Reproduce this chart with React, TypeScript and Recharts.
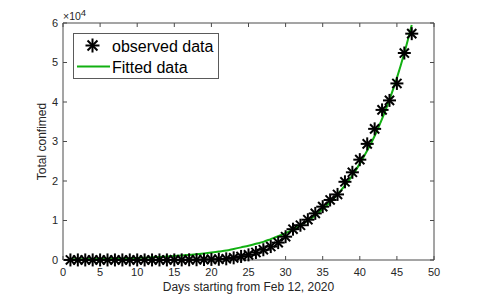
import { LineChart, Line, XAxis, YAxis, Legend } from "recharts";

// days since Feb 12, 2020
const days = [
  1, 2, 3, 4, 5, 6, 7, 8, 9, 10, 11, 12, 13, 14, 15, 16, 17, 18, 19, 20, 21, 22, 23, 24,
  25, 26, 27, 28, 29, 30, 31, 32, 33, 34, 35, 36, 37, 38, 39, 40, 41, 42, 43, 44, 45, 46, 47,
];

const observed = [
  16, 16, 16, 16, 16, 16, 16, 16, 16, 16, 16, 16, 16, 18, 21, 26, 53, 66, 117, 150, 188, 300,
  550, 900, 1300, 1900, 2600, 3400, 4400, 5900, 7800, 8800, 10200, 11800, 13500, 15200, 16600,
  19800, 22200, 25400, 29400, 33200, 38000, 40400, 44700, 52400, 57300,
];

const fitted = [
  170, 190, 215, 245, 280, 315, 360, 410, 460, 530, 600, 680, 770, 880, 1000, 1130, 1290, 1460,
  1660, 1890, 2150, 2400, 2800, 3200, 3600, 4100, 4600, 5300, 6000, 6800, 7700, 8800, 10000,
  11300, 12900, 14600, 16600, 18900, 21400, 24400, 27700, 31400, 35700, 40600, 46100, 52400, 59500,
];

const xTicks = [0, 5, 10, 15, 20, 25, 30, 35, 40, 45, 50];
const yTicks = [0, 10000, 20000, 30000, 40000, 50000, 60000];

const rows = days.map((d, i) => ({ day: d, observed: observed[i], fitted: fitted[i] }));

const FONT = '"Liberation Sans", Arial, sans-serif';
const AXIS = "#4a4a4a";
const TEXT = "#262626";
const GREEN = "#12b012";

function Asterisk({ cx, cy, r }: { cx: number; cy: number; r: number }) {
  const d = r * 0.707;
  return (
    <g stroke="#000" strokeWidth={2} strokeLinecap="butt">
      <line x1={cx - r} y1={cy} x2={cx + r} y2={cy} />
      <line x1={cx} y1={cy - r} x2={cx} y2={cy + r} />
      <line x1={cx - d} y1={cy - d} x2={cx + d} y2={cy + d} />
      <line x1={cx - d} y1={cy + d} x2={cx + d} y2={cy - d} />
    </g>
  );
}

const starDot = (props: any) => {
  if (props.cx == null || props.cy == null) return <g key={`s-${props.index}`} />;
  return (
    <g key={`s-${props.index}`}>
      <Asterisk cx={props.cx} cy={props.cy} r={6.5} />
    </g>
  );
};

const noTick = () => <g />;

const LegendBox = () => (
  <svg width={146} height={46} style={{ display: "block" }}>
    <rect x={0.5} y={0.5} width={145} height={45} fill="#fff" stroke="#5a5a5a" strokeWidth={1} />
    <Asterisk cx={19.5} cy={12.5} r={7} />
    <text x={39} y={18.5} fontSize={16} fontFamily={FONT} fill="#000">
      observed data
    </text>
    <line x1={4} y1={33.5} x2={37} y2={33.5} stroke={GREEN} strokeWidth={2} />
    <text x={39} y={40} fontSize={16} fontFamily={FONT} fill="#000">
      Fitted data
    </text>
  </svg>
);

export default function App() {
  return (
    <div style={{ position: "absolute", left: 0, top: 0 }}>
      <LineChart
        width={480}
        height={295}
        data={rows}
        margin={{ top: 22, right: 45, bottom: 34, left: 62 }}
        style={{ fontFamily: FONT }}
      >
        <XAxis
          dataKey="day"
          type="number"
          domain={[0, 50]}
          ticks={xTicks}
          height={1}
          tickSize={-4}
          tickMargin={12}
          stroke={AXIS}
          tick={{ fill: TEXT, fontSize: 11 }}
          label={{
            value: "Days starting from Feb 12, 2020",
            position: "bottom",
            offset: 21,
            fill: TEXT,
            fontSize: 12,
          }}
        />
        <XAxis
          xAxisId="top"
          orientation="top"
          dataKey="day"
          type="number"
          domain={[0, 50]}
          ticks={xTicks}
          height={1}
          tickSize={-4}
          stroke={AXIS}
          tick={noTick}
          label={{
            content: (p: any) => (
              <text x={p.viewBox.x} y={p.viewBox.y - 2} fontSize={10.5} fill={TEXT} fontFamily={FONT}>
                ×10
                <tspan dy={-4} fontSize={9.5}>
                  4
                </tspan>
              </text>
            ),
          }}
        />
        <YAxis
          type="number"
          domain={[0, 60000]}
          ticks={yTicks}
          width={1}
          tickSize={-4}
          tickMargin={9}
          stroke={AXIS}
          tick={{ fill: TEXT, fontSize: 11 }}
          tickFormatter={(v: number) => String(v / 10000)}
          label={{
            content: (p: any) => {
              const x = p.viewBox.x + p.viewBox.width - 17;
              const y = p.viewBox.y + p.viewBox.height / 2;
              return (
                <text
                  x={x}
                  y={y}
                  transform={`rotate(-90, ${x}, ${y})`}
                  textAnchor="middle"
                  fontSize={12}
                  fill={TEXT}
                  fontFamily={FONT}
                >
                  Total confimed
                </text>
              );
            },
          }}
        />
        <YAxis
          yAxisId="right"
          orientation="right"
          type="number"
          domain={[0, 60000]}
          ticks={yTicks}
          width={1}
          tickSize={-4}
          stroke={AXIS}
          tick={noTick}
        />
        <Legend
          layout="vertical"
          align="center"
          verticalAlign="middle"
          wrapperStyle={{ left: 73, top: 33, width: 146, height: 46 }}
          content={LegendBox}
        />
        <Line
          dataKey="observed"
          stroke="none"
          dot={starDot}
          activeDot={false}
          isAnimationActive={false}
        />
        <Line
          xAxisId="top"
          yAxisId="right"
          dataKey="fitted"
          type="monotone"
          stroke={GREEN}
          strokeWidth={2}
          dot={false}
          activeDot={false}
          isAnimationActive={false}
        />
      </LineChart>
    </div>
  );
}
